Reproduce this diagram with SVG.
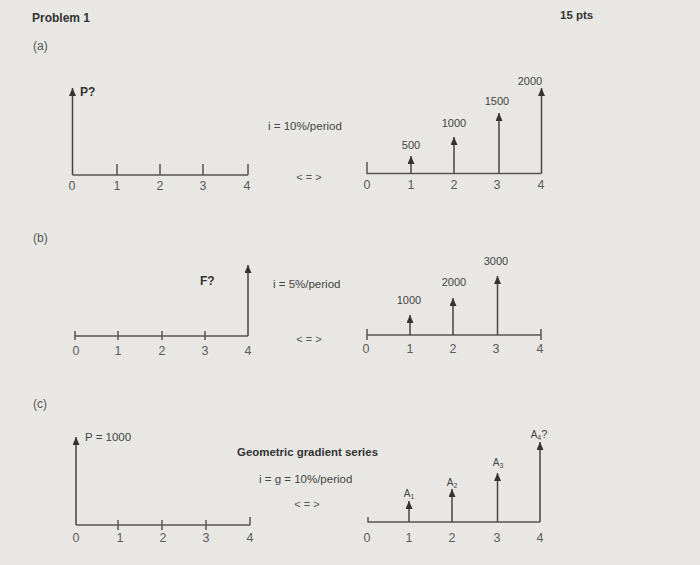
<svg xmlns="http://www.w3.org/2000/svg" width="700" height="565" viewBox="0 0 700 565">
<defs>
<marker id="ah" viewBox="-3.5 0 7 8" markerWidth="7" markerHeight="8" refX="0" refY="0" orient="0" markerUnits="userSpaceOnUse">
<path d="M-3.5,8 L0,0 L3.5,8 Z" fill="#333"/>
</marker>
<style>
text{font-family:"Liberation Sans",Arial,sans-serif;fill:#444;}
.b{font-weight:bold;fill:#333;font-size:12px;}
.n{font-size:12.5px;fill:#5a5a5a;text-anchor:middle;}
.v{font-size:11px;fill:#444;text-anchor:middle;}
.eq{font-size:11.5px;fill:#444;}
.eqv{font-size:11px;fill:#555;text-anchor:middle;}
.ax{stroke:#555;stroke-width:1.5;fill:none;}
.ar{stroke:#444;stroke-width:1.5;fill:none;marker-end:url(#ah);}
.sub{font-size:7px;}
</style>
</defs>
<rect width="700" height="565" fill="#e8e7e3"/>
<text class="b" x="32" y="22">Problem 1</text>
<text class="b" x="560" y="19" style="font-size:11.5px">15 pts</text>
<text x="33" y="50" style="font-size:12px;fill:#555">(a)</text>
<text x="33" y="242" style="font-size:12px;fill:#555">(b)</text>
<text x="33" y="408" style="font-size:12px;fill:#555">(c)</text>

<g id="a-left">
<path class="ax" d="M72.5,175 H248 M117,164 V175 M160,164 V175 M203,164 V175 M248,164 V175"/>
<text class="b" x="80" y="96">P?</text>
<text class="n" x="72" y="190">0</text><text class="n" x="117" y="190">1</text><text class="n" x="160" y="190">2</text><text class="n" x="203" y="190">3</text><text class="n" x="247" y="190">4</text>
</g>
<g id="a-eq">
<text class="eq" x="268" y="130">i = 10%/period</text>
<text class="eqv" x="309" y="181">&lt; = &gt;</text>
</g>
<g id="a-right">
<path class="ax" d="M367,162 V173.5 H541.5"/>
<text class="v" x="411" y="149">500</text>
<text class="v" x="454" y="127">1000</text>
<text class="v" x="497" y="105">1500</text>
<text class="v" x="530" y="85">2000</text>
<text class="n" x="367" y="189">0</text><text class="n" x="411" y="189">1</text><text class="n" x="454" y="189">2</text><text class="n" x="497" y="189">3</text><text class="n" x="541" y="189">4</text>
</g>

<g id="b-left">
<path class="ax" d="M75,336 H248 M75,331 V340 M118,331 V340 M162,331 V340 M205,331 V340"/>
<text class="b" x="200" y="285">F?</text>
<text class="n" x="76" y="355">0</text><text class="n" x="118" y="355">1</text><text class="n" x="162" y="355">2</text><text class="n" x="205" y="355">3</text><text class="n" x="248" y="355">4</text>
</g>
<g id="b-eq">
<text class="eq" x="273" y="288">i = 5%/period</text>
<text class="eqv" x="309" y="343">&lt; = &gt;</text>
</g>
<g id="b-right">
<path class="ax" d="M367,335 H541 M367,329 V340 M541,329 V340"/>
<text class="v" x="409" y="304">1000</text>
<text class="v" x="454" y="286">2000</text>
<text class="v" x="496" y="265">3000</text>
<text class="n" x="366" y="353">0</text><text class="n" x="410" y="353">1</text><text class="n" x="453" y="353">2</text><text class="n" x="496" y="353">3</text><text class="n" x="540" y="353">4</text>
</g>

<g id="c-left">
<path class="ax" d="M76,525 H250 M118,520 V530 M162,520 V530 M206,520 V530 M250,517 V525"/>
<text x="85" y="441" style="font-size:11.5px;fill:#444">P = 1000</text>
<text class="n" x="76" y="542">0</text><text class="n" x="120" y="542">1</text><text class="n" x="163" y="542">2</text><text class="n" x="206" y="542">3</text><text class="n" x="250" y="542">4</text>
</g>
<g id="c-eq">
<text class="b" x="237" y="456" style="font-size:11.5px" textLength="141" lengthAdjust="spacingAndGlyphs">Geometric gradient series</text>
<text class="eq" x="259" y="483">i = g = 10%/period</text>
<text class="eqv" x="307" y="508">&lt; = &gt;</text>
</g>
<g id="c-right">
<path class="ax" d="M368,517 V522 H540"/>
<text class="v" x="409" y="497" style="font-size:10px">A<tspan class="sub" dy="2">1</tspan></text>
<text class="v" x="452" y="486" style="font-size:10px">A<tspan class="sub" dy="2">2</tspan></text>
<text class="v" x="498" y="466" style="font-size:10px">A<tspan class="sub" dy="2">3</tspan></text>
<text class="v" x="539" y="438" style="font-size:10px">A<tspan class="sub" dy="2">4</tspan><tspan dy="-2" style="font-size:11px">?</tspan></text>
<text class="n" x="367" y="542">0</text><text class="n" x="409" y="542">1</text><text class="n" x="452" y="542">2</text><text class="n" x="497" y="542">3</text><text class="n" x="540" y="542">4</text>
</g>

<g id="connectors">
<line class="ar" x1="72.5" y1="175" x2="72.5" y2="88"/>
<line class="ar" x1="411" y1="173.5" x2="411" y2="156"/>
<line class="ar" x1="454" y1="173.5" x2="454" y2="137"/>
<line class="ar" x1="499" y1="173.5" x2="499" y2="113"/>
<line class="ar" x1="541.5" y1="173.5" x2="541.5" y2="88"/>
<line class="ar" x1="248" y1="336" x2="248" y2="265"/>
<line class="ar" x1="410" y1="335" x2="410" y2="315"/>
<line class="ar" x1="453" y1="335" x2="453" y2="298"/>
<line class="ar" x1="497.5" y1="335" x2="497.5" y2="276"/>
<line class="ar" x1="76" y1="525" x2="76" y2="437"/>
<line class="ar" x1="409" y1="522" x2="409" y2="501"/>
<line class="ar" x1="452" y1="522" x2="452" y2="489"/>
<line class="ar" x1="497.5" y1="522" x2="497.5" y2="473"/>
<line class="ar" x1="540" y1="522" x2="540" y2="442"/>
</g>
</svg>
